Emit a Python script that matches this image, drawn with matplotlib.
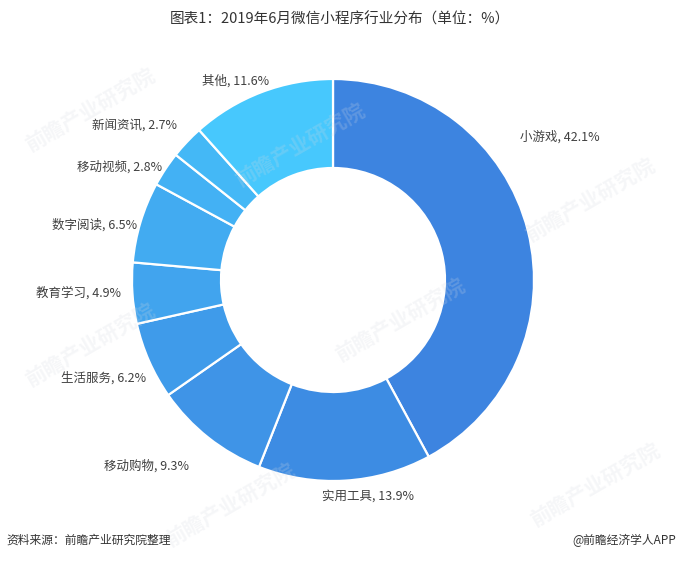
import matplotlib
matplotlib.use("Agg")
import matplotlib.pyplot as plt

plt.rcParams['font.family'] = ['Noto Sans CJK SC', 'DejaVu Sans']

# Industry shares of WeChat mini programs, June 2019 (%)
categories = ['小游戏', '实用工具', '移动购物', '生活服务', '教育学习',
              '数字阅读', '移动视频', '新闻资讯', '其他']
shares = [42.1, 13.9, 9.3, 6.2, 4.9, 6.5, 2.8, 2.7, 11.6]
colors = ['#3d84e0', '#3d8ce3', '#3f94e7', '#3f9bea', '#41a4ee',
          '#42abf1', '#43b1f4', '#44b8f6', '#47c8fd']

title = '图表1：2019年6月微信小程序行业分布（单位：%）'
source = '资料来源：前瞻产业研究院整理'
credit = '@前瞻经济学人APP'

W, H = 680, 561
fig = plt.figure(figsize=(W / 100, H / 100), dpi=100)
ax = fig.add_axes([0, 0, 1, 1])

cx, cy = 333, H - 280
R = 201
ring = 89

ax.pie(shares, colors=colors, startangle=90, counterclock=False,
       radius=R, center=(cx, cy),
       wedgeprops=dict(width=ring, edgecolor='white', linewidth=1.6))

ax.set_xlim(0, W)
ax.set_ylim(0, H)
ax.set_aspect('equal')
ax.axis('off')

# label anchor points (pixel layout, top-left origin), one per category
label_xy = [(560, 137), (368, 496), (147, 466), (104, 378), (78, 293),
            (95, 225), (120, 167), (134, 125), (236, 81)]
for name, val, (lx, ly) in zip(categories, shares, label_xy):
    ax.text(lx, H - ly, f'{name}, {val:.1f}%', ha='center', va='center',
            fontsize=9, color='#404040')

# faint agency watermarks
wm_xy = [(90, 110), (300, 145), (590, 200), (400, 320), (90, 345),
         (230, 505), (595, 485)]
for wx, wy in wm_xy:
    ax.text(wx, H - wy, '前瞻产业研究院', ha='center', va='center',
            fontsize=15, fontweight='bold', color='#d5d9e0', alpha=0.22,
            rotation=30)

fig.text(0.5, 1 - 19 / H, title, ha='center', va='center',
         fontsize=10.5, color='#333333')
fig.text(6 / W, 1 - 540 / H, source, ha='left', va='center',
         fontsize=8.5, color='#333333', style='italic')
fig.text(676 / W, 1 - 540 / H, credit, ha='right', va='center',
         fontsize=8.5, color='#333333')

fig.savefig('out.png', dpi=100)
